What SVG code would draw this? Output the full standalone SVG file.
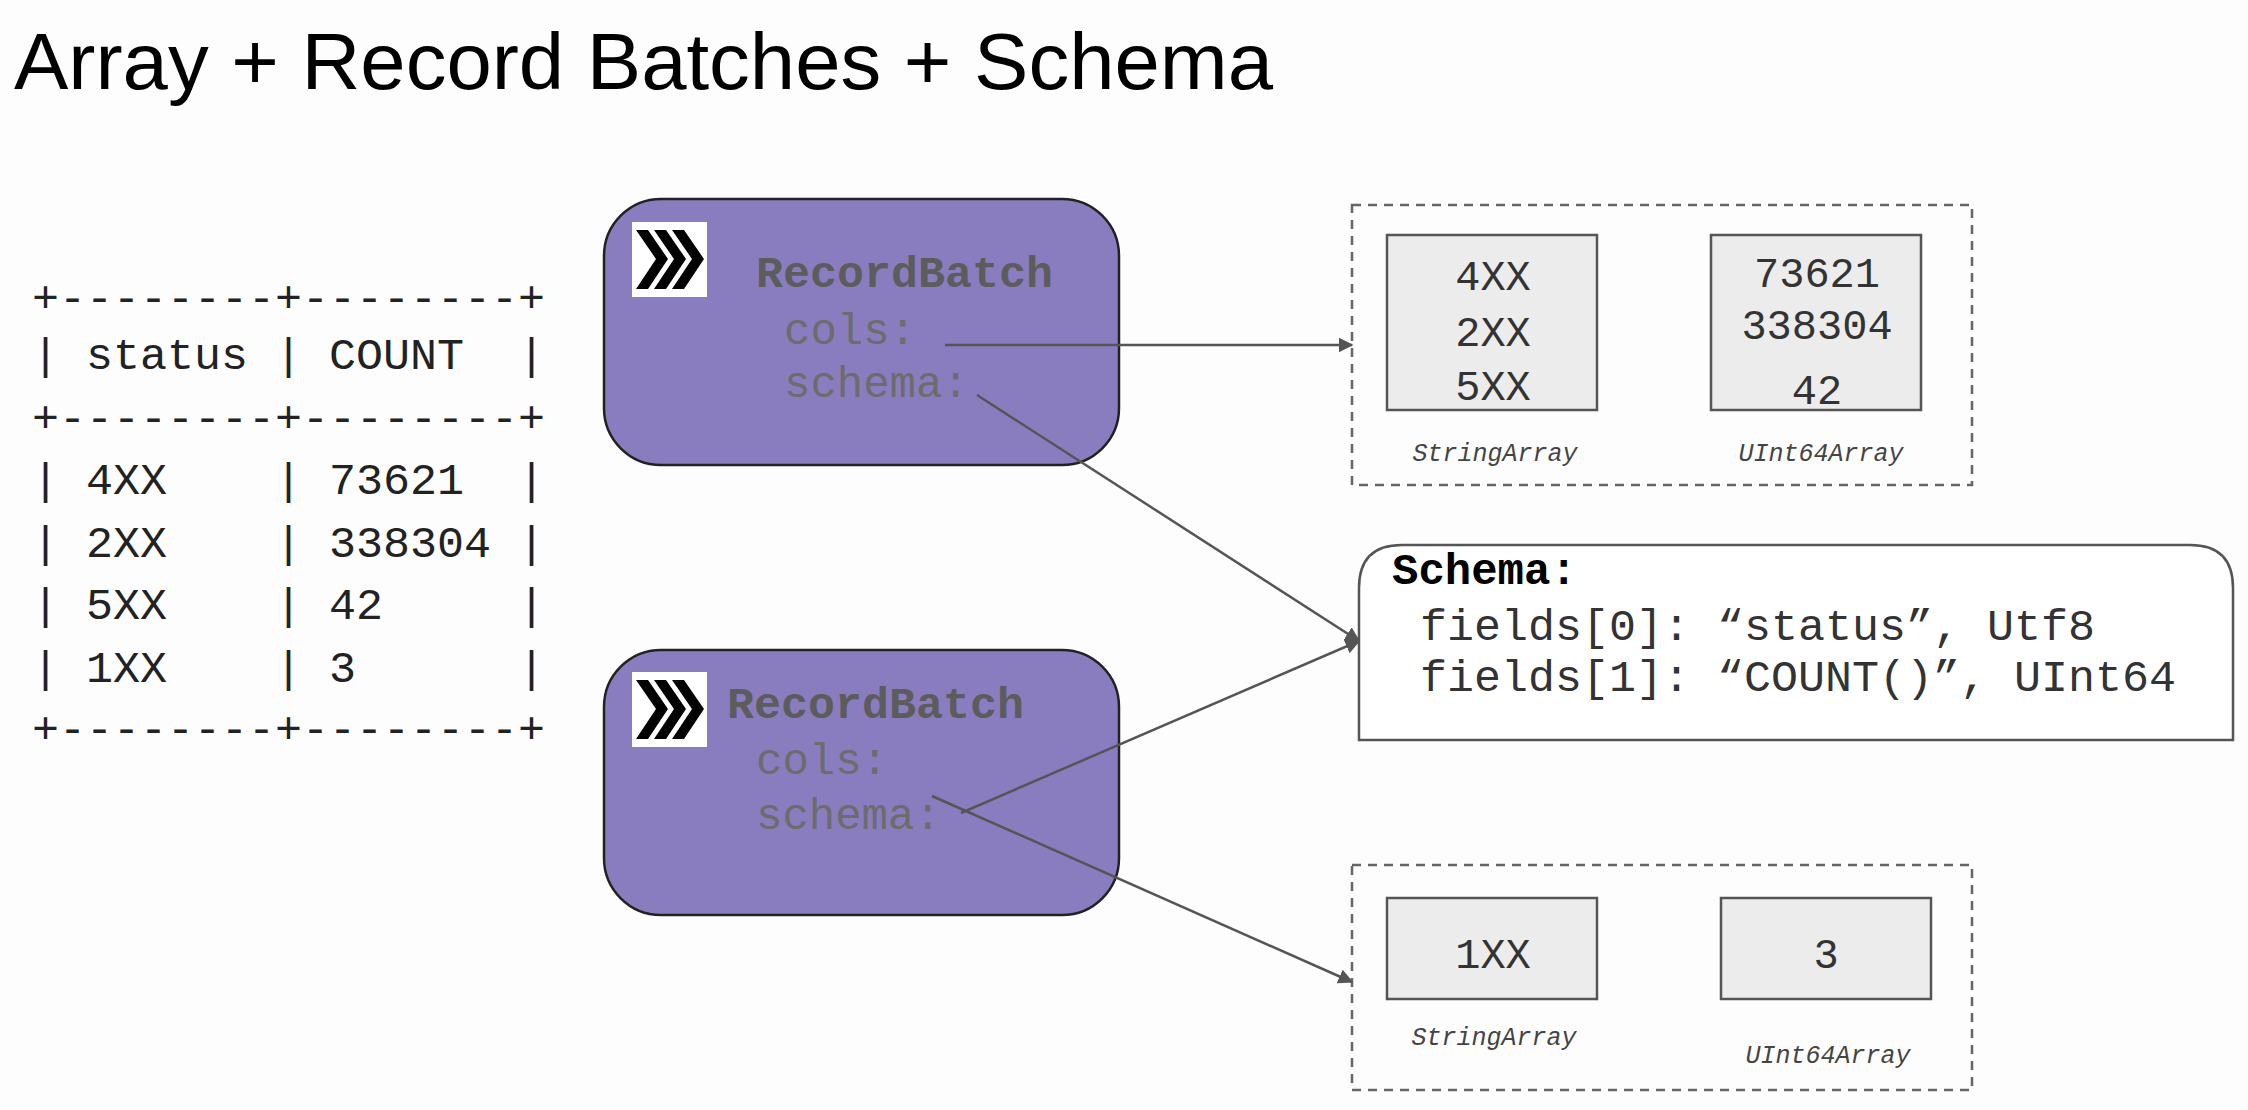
<svg xmlns="http://www.w3.org/2000/svg" width="2248" height="1110" viewBox="0 0 2248 1110">
<style>
.mono{font-family:"Liberation Mono","DejaVu Sans Mono",monospace}
.tbl{font-size:45px;fill:#222}
.rb{fill:#8a7dbf;stroke:#222;stroke-width:2.5}
.rbt{font-size:45px;font-weight:bold;fill:#5c5c5c}
.rbl{font-size:44px;fill:#6c6c6c}
.dash{fill:none;stroke:#666;stroke-width:2.5;stroke-dasharray:9 7}
.cell{fill:#ececec;stroke:#555;stroke-width:2.5}
.val{font-size:42px;fill:#333;text-anchor:middle}
.lab{font-size:25px;font-style:italic;fill:#444;text-anchor:middle}
.con{stroke:#555;stroke-width:2.5;fill:none;marker-end:url(#ah)}
</style>
<defs>
<marker id="ah" viewBox="0 0 10 10" refX="9" refY="5" markerWidth="6" markerHeight="6" orient="auto" markerUnits="strokeWidth"><path d="M0,0 L10,5 L0,10 z" fill="#555"/></marker>
<g id="icon"><rect x="0" y="0" width="75" height="75" fill="#fff"/><path d="M4,8 h12 l20,29 l-20,30 h-12 l20,-30z M22,8 h12 l20,29 l-20,30 h-12 l20,-30z M40,8 h12 l20,29 l-20,30 h-12 l20,-30z" fill="#000"/></g>
</defs>
<rect width="2248" height="1110" fill="#fdfdfd"/>
<text x="14" y="89" font-family="Liberation Sans,Arial,sans-serif" font-size="80" fill="#000" textLength="1259" lengthAdjust="spacingAndGlyphs">Array + Record Batches + Schema</text>
<g id="table" class="mono tbl">
<text x="32" y="312" xml:space="preserve">+--------+--------+</text>
<text x="32" y="369" xml:space="preserve">| status | COUNT  |</text>
<text x="32" y="432" xml:space="preserve">+--------+--------+</text>
<text x="32" y="494" xml:space="preserve">| 4XX    | 73621  |</text>
<text x="32" y="557" xml:space="preserve">| 2XX    | 338304 |</text>
<text x="32" y="619" xml:space="preserve">| 5XX    | 42     |</text>
<text x="32" y="682" xml:space="preserve">| 1XX    | 3      |</text>
<text x="32" y="743" xml:space="preserve">+--------+--------+</text>
</g>
<g id="rb1">
<rect class="rb" x="604" y="199" width="515" height="266" rx="57"/>
<use href="#icon" x="632" y="222"/>
<text class="mono rbt" x="756" y="287">RecordBatch</text>
<text class="mono rbl" x="784" y="344">cols:</text>
<text class="mono rbl" x="784" y="397">schema:</text>
</g>
<g id="rb2">
<rect class="rb" x="604" y="650" width="515" height="265" rx="57"/>
<use href="#icon" x="632" y="672"/>
<text class="mono rbt" x="727" y="718">RecordBatch</text>
<text class="mono rbl" x="756" y="774">cols:</text>
<text class="mono rbl" x="756" y="829">schema:</text>
</g>
<g id="arrays1">
<rect class="dash" x="1352" y="205" width="620" height="280"/>
<rect class="cell" x="1387" y="235" width="210" height="175"/>
<rect class="cell" x="1711" y="235" width="210" height="175"/>
<g class="mono val"><text x="1493" y="290">4XX</text><text x="1493" y="346">2XX</text><text x="1493" y="400">5XX</text>
<text x="1817" y="287">73621</text><text x="1817" y="339">338304</text><text x="1817" y="404">42</text></g>
<text class="mono lab" x="1495" y="461">StringArray</text>
<text class="mono lab" x="1821" y="461">UInt64Array</text>
</g>
<g id="schema">
<path d="M1359,740 V588 Q1359,545 1402,545 H2190 Q2233,545 2233,588 V740 Z" fill="#fff" stroke="#555" stroke-width="2.5"/>
<text class="mono" x="1392" y="584" font-size="44" font-weight="bold" fill="#000">Schema:</text>
<text class="mono" x="1420" y="640" font-size="45" fill="#333">fields[0]: “status”, Utf8</text>
<text class="mono" x="1420" y="691" font-size="45" fill="#333">fields[1]: “COUNT()”, UInt64</text>
</g>
<g id="arrays2">
<rect class="dash" x="1352" y="865" width="620" height="225"/>
<rect class="cell" x="1387" y="898" width="210" height="101"/>
<rect class="cell" x="1721" y="898" width="210" height="101"/>
<text class="mono val" x="1493" y="968">1XX</text>
<text class="mono val" x="1826" y="968">3</text>
<text class="mono lab" x="1494" y="1045">StringArray</text>
<text class="mono lab" x="1828" y="1063">UInt64Array</text>
</g>
<g id="connectors">
<path class="con" d="M945,345 H1352"/>
<path class="con" d="M977,395 L1359,641"/>
<path class="con" d="M961,813 L1359,641"/>
<path class="con" d="M932,796 L1352,982"/>
</g>
</svg>
